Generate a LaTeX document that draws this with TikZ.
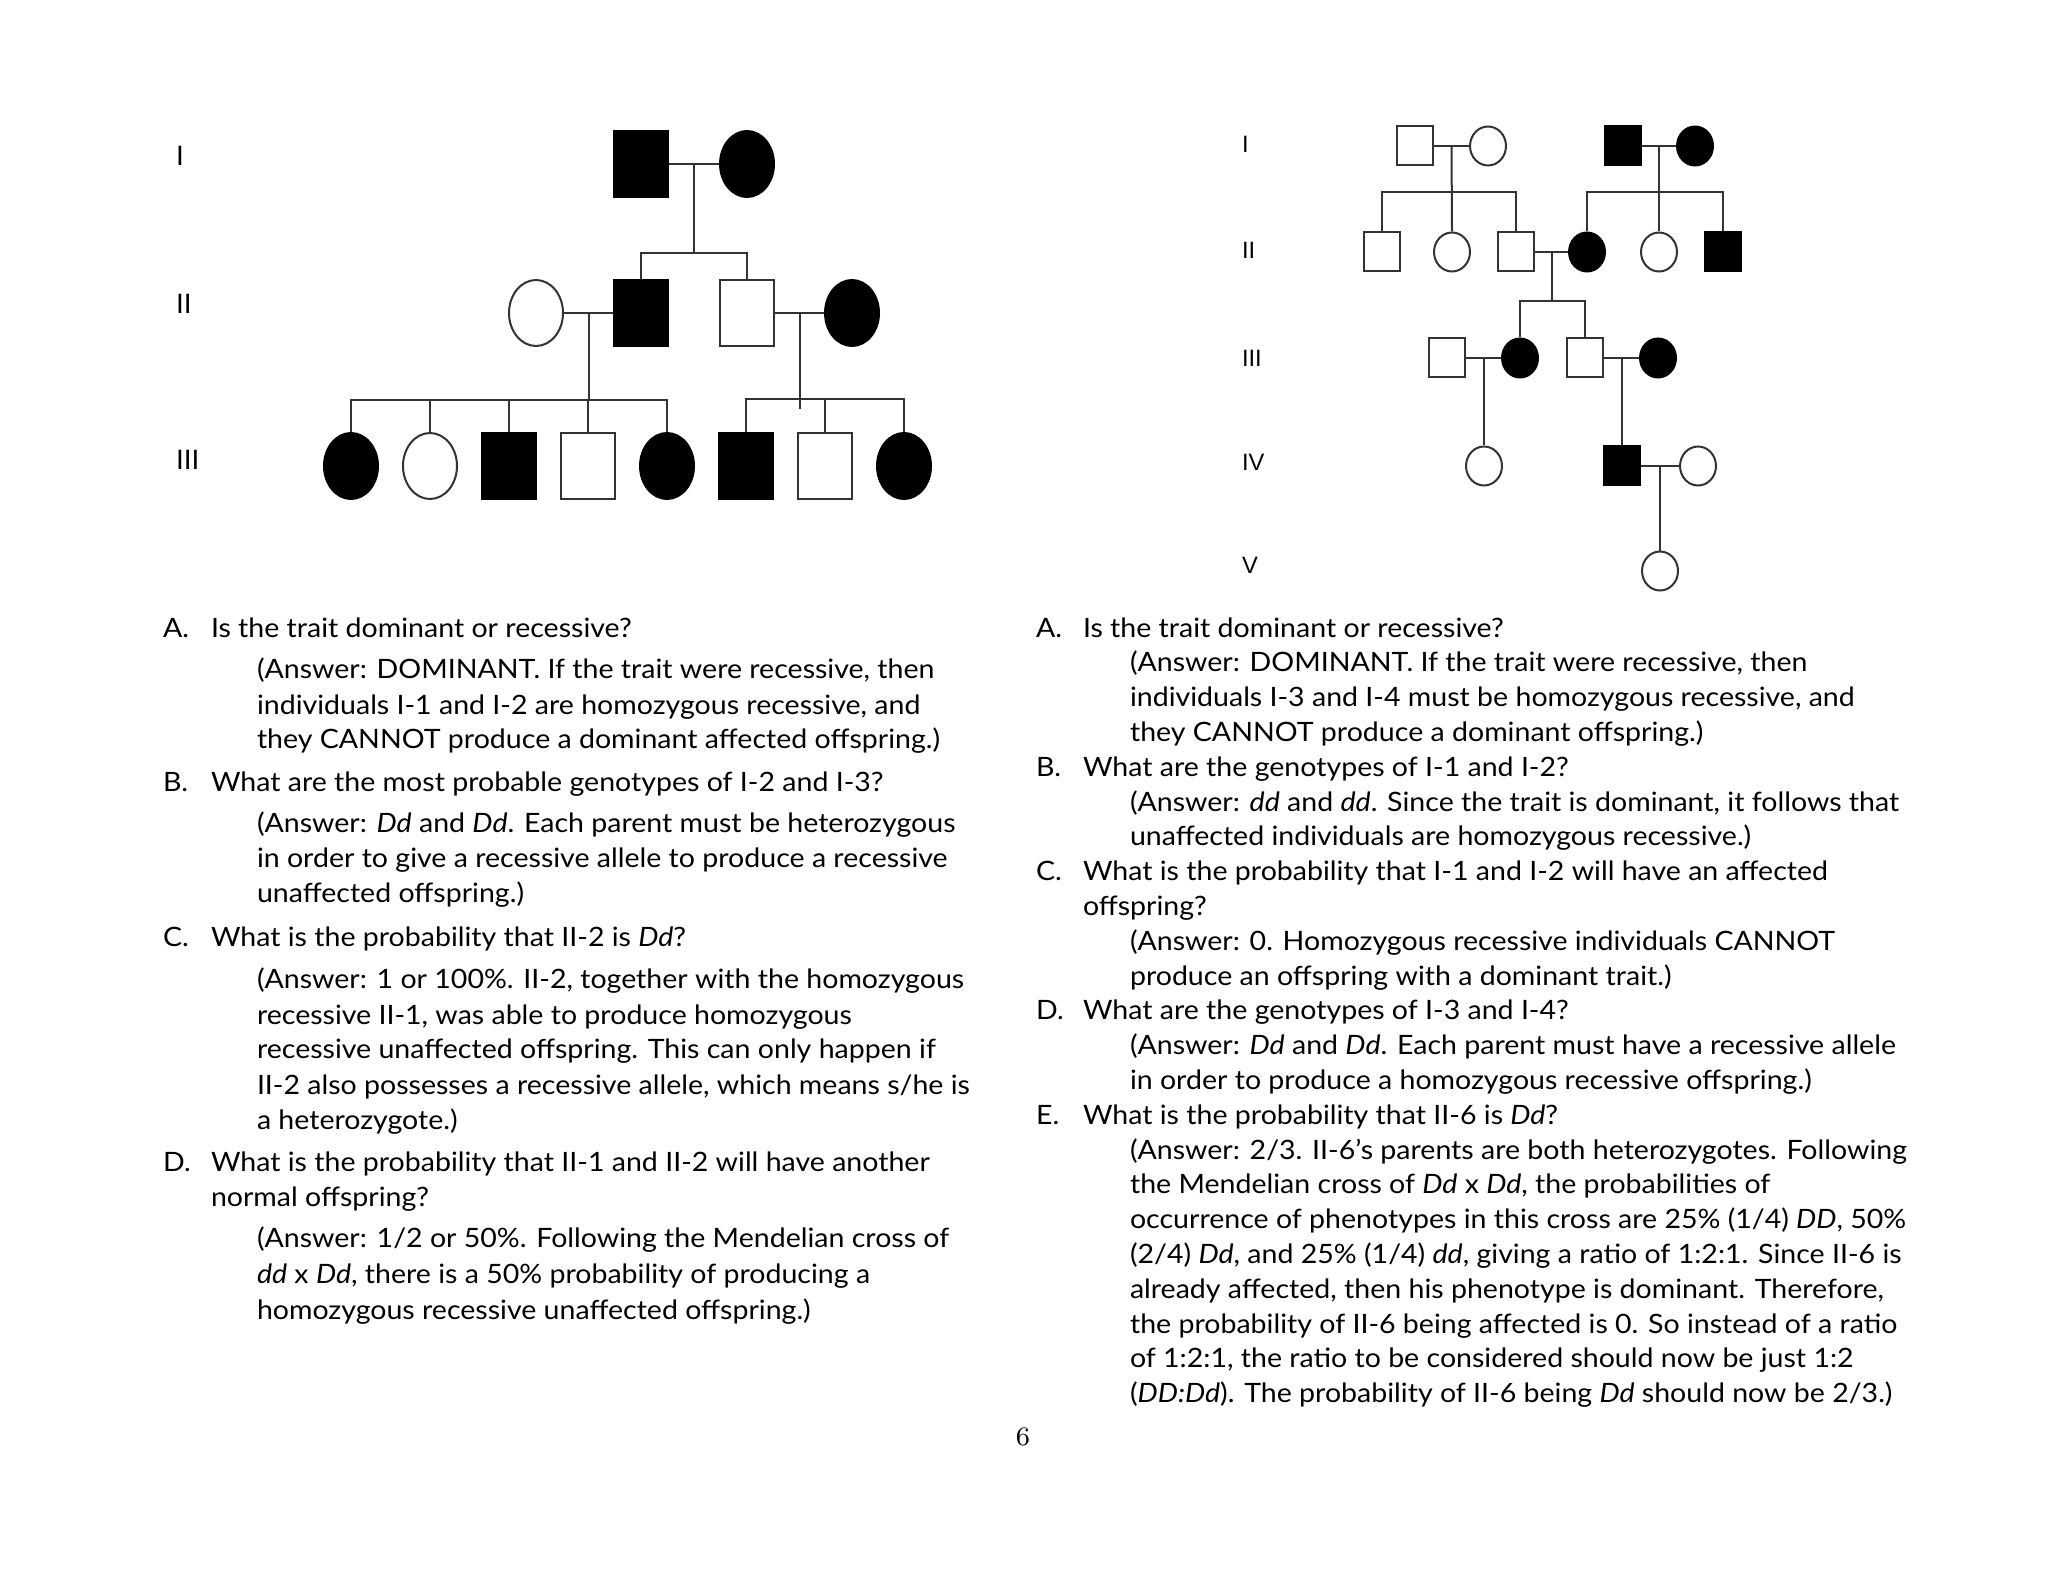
\documentclass[tikz,border=0pt]{standalone}
\usepackage{fontspec}
\usepackage{xcolor}
\usetikzlibrary{shapes.geometric}
\newfontfamily\qfont[FakeStretch=1.07]{Lato}
\newfontfamily\gfont{Liberation Sans}
\definecolor{pedline}{HTML}{333333}
\definecolor{pedfill}{HTML}{000000}

\tikzset{
  male/.style={rectangle, draw=pedline, line width=0.6pt, fill=white, inner sep=0pt},
  female/.style={ellipse, draw=pedline, line width=0.6pt, fill=white, inner sep=0pt},
  aff/.style={fill=pedfill, draw=pedfill},
  big/.style={minimum width=16.2pt, minimum height=19.8pt},
  small/.style={minimum width=10.8pt, minimum height=11.7pt},
  txt/.style={anchor=base west, inner sep=0pt, font=\qfont\fontsize{8}{9}\selectfont},
  gen/.style={anchor=base west, inner sep=0pt},
}

\begin{document}
\begin{tikzpicture}[x=0.3pt, y=-0.3pt, line width=0.6pt, draw=pedline]
  \useasboundingbox (0,0) rectangle (2048,1582);

  % left pedigree
  \foreach \y/\t/\n in {166/I/1,314/II/2,470/III/3}{
    \node[gen, font=\gfont\fontsize{8.4}{10}\selectfont] (Lg\n) at (175,\y) {\t};
  }
  \node[male,big,aff] (LI1) at (641,164) {};
  \node[female,big,aff] (LI2) at (747,164) {};
  \node[female,big] (LII1) at (536,313) {};
  \node[male,big,aff] (LII2) at (641,313) {};
  \node[male,big] (LII3) at (747,313) {};
  \node[female,big,aff] (LII4) at (852,313) {};
  \node[female,big,aff] (LIII1) at (351,466) {};
  \node[female,big] (LIII2) at (430,466) {};
  \node[male,big,aff] (LIII3) at (509,466) {};
  \node[male,big] (LIII4) at (588,466) {};
  \node[female,big,aff] (LIII5) at (667,466) {};
  \node[male,big,aff] (LIII6) at (746,466) {};
  \node[male,big] (LIII7) at (825,466) {};
  \node[female,big,aff] (LIII8) at (904,466) {};

  \draw (LI1) -- (LI2) coordinate[midway] (LmI);
  \draw (LmI) -- ++(0,89) coordinate (LsI);
  \draw (LII2.north) |- (LsI) -| (LII3.north);
  \draw (LII1) -- (LII2) coordinate[midway] (LmII);
  \draw (LmII) -- ++(0,87) coordinate (LsII);
  \draw (LIII1.north) |- (LsII) -| (LIII5.north);
  \foreach \k in {2,3,4}{
    \draw (LIII\k.north) -- ++(0,-33);
  }
  \draw (LII3) -- (LII4) coordinate[midway] (LmIIb);
  \draw (LmIIb) -- ++(0,96);
  \draw (LIII6.north) -- ++(0,-33) -| (LIII8.north);
  \draw (LIII7.north) -- ++(0,-33);

  % right pedigree
  \foreach \y/\t/\n in {153/I/1,259/II/2,367/III/3,471/IV/4,573/V/5}{
    \node[gen, font=\gfont\fontsize{7.1}{9}\selectfont] (Rg\n) at (1241,\y) {\t};
  }
  \node[male,small] (RI1) at (1415,146) {};
  \node[female,small] (RI2) at (1488,146) {};
  \node[male,small,aff] (RI3) at (1623,146) {};
  \node[female,small,aff] (RI4) at (1695,146) {};
  \node[male,small] (RII1) at (1382,252) {};
  \node[female,small] (RII2) at (1452,252) {};
  \node[male,small] (RII3) at (1516,252) {};
  \node[female,small,aff] (RII4) at (1587,252) {};
  \node[female,small] (RII5) at (1659,252) {};
  \node[male,small,aff] (RII6) at (1723,252) {};
  \node[male,small] (RIII1) at (1447,358) {};
  \node[female,small,aff] (RIII2) at (1520,358) {};
  \node[male,small] (RIII3) at (1585,358) {};
  \node[female,small,aff] (RIII4) at (1658,358) {};
  \node[female,small] (RIV1) at (1484,466) {};
  \node[male,small,aff] (RIV2) at (1622,466) {};
  \node[female,small] (RIV3) at (1698,466) {};
  \node[female,small] (RV1) at (1660,571) {};

  \draw (RI1) -- (RI2) coordinate[midway] (RmI);
  \draw (RmI) -- (RII2.north);
  \draw (RII1.north) -- ++(0,-39) -| (RII3.north);
  \draw (RI3) -- (RI4) coordinate[midway] (RmIb);
  \draw (RmIb) -- (RII5.north);
  \draw (RII4.north) -- ++(0,-39) -| (RII6.north);
  \draw (RII3) -- (RII4) coordinate[midway] (RmII);
  \draw (RmII) -- ++(0,49) coordinate (RsII);
  \draw (RIII2.north) |- (RsII) -| (RIII3.north);
  \draw (RIII1) -- (RIII2) coordinate[midway] (RmIII);
  \draw (RmIII) -- (RmIII |- RIV1.north);
  \draw (RIII3) -- (RIII4) coordinate[midway] (RmIIIb);
  \draw (RmIIIb) -- (RmIIIb |- RIV2.north);
  \draw (RIV2) -- (RIV3) coordinate[midway] (RmIV);
  \draw (RmIV) -- (RmIV |- RV1.north);

  % left questions
  \foreach \y/\t in {637/A.,791/B.,946/C.,1171/D.}{
    \node[txt] (Lq\y) at (162,\y) {\t};
  }
  \foreach \y/\t in {
    637/{Is the trait dominant or recessive?},
    791/{What are the most probable genotypes of I-2 and I-3?},
    946/{What is the probability that II-2 is \emph{Dd}?},
    1171/{What is the probability that II-1 and II-2 will have another},
    1206/{normal offspring?}}{
    \node[txt] (Ls\y) at (210,\y) {\t};
  }
  \foreach \y/\t in {
    678/{(Answer: DOMINANT. If the trait were recessive, then},
    714/{individuals I-1 and I-2 are homozygous recessive, and},
    748/{they CANNOT produce a dominant affected offspring.)},
    832/{(Answer: \emph{Dd} and \emph{Dd}. Each parent must be heterozygous},
    867/{in order to give a recessive allele to produce a recessive},
    902/{unaffected offspring.)},
    988/{(Answer: 1 or 100\%. II-2, together with the homozygous},
    1024/{recessive II-1, was able to produce homozygous},
    1058/{recessive unaffected offspring. This can only happen if},
    1094/{II-2 also possesses a recessive allele, which means s/he is},
    1129/{a heterozygote.)},
    1247/{(Answer: 1/2 or 50\%. Following the Mendelian cross of},
    1283/{\emph{dd} x \emph{Dd}, there is a 50\% probability of producing a},
    1319/{homozygous recessive unaffected offspring.)}}{
    \node[txt] (La\y) at (256,\y) {\t};
  }

  % right questions
  \foreach \i/\t in {0/A.,4/B.,7/C.,11/D.,14/E.}{
    \node[txt] (Rq\i) at (1035,{637+34.8*\i}) {\t};
  }
  \foreach \i/\t in {
    0/{Is the trait dominant or recessive?},
    4/{What are the genotypes of I-1 and I-2?},
    7/{What is the probability that I-1 and I-2 will have an affected},
    8/{offspring?},
    11/{What are the genotypes of I-3 and I-4?},
    14/{What is the probability that II-6 is \emph{Dd}?}}{
    \node[txt] (Rs\i) at (1082,{637+34.8*\i}) {\t};
  }
  \foreach \i/\t in {
    1/{(Answer: DOMINANT. If the trait were recessive, then},
    2/{individuals I-3 and I-4 must be homozygous recessive, and},
    3/{they CANNOT produce a dominant offspring.)},
    5/{(Answer: \emph{dd} and \emph{dd}. Since the trait is dominant, it follows that},
    6/{unaffected individuals are homozygous recessive.)},
    9/{(Answer: 0. Homozygous recessive individuals CANNOT},
    10/{produce an offspring with a dominant trait.)},
    12/{(Answer: \emph{Dd} and \emph{Dd}. Each parent must have a recessive allele},
    13/{in order to produce a homozygous recessive offspring.)},
    15/{(Answer: 2/3. II-6’s parents are both heterozygotes. Following},
    16/{the Mendelian cross of \emph{Dd} x \emph{Dd}, the probabilities of},
    17/{occurrence of phenotypes in this cross are 25\% (1/4) \emph{DD}, 50\%},
    18/{(2/4) \emph{Dd}, and 25\% (1/4) \emph{dd}, giving a ratio of 1:2:1. Since II-6 is},
    19/{already affected, then his phenotype is dominant. Therefore,},
    20/{the probability of II-6 being affected is 0. So instead of a ratio},
    21/{of 1:2:1, the ratio to be considered should now be just 1:2},
    22/{(\emph{DD:Dd}). The probability of II-6 being \emph{Dd} should now be 2/3.)}}{
    \node[txt] (Ra\i) at (1129,{637+34.8*\i}) {\t};
  }

  \node[inner sep=0pt, font=\fontsize{8}{10}\selectfont] (page) at (1023,1437) {6};
\end{tikzpicture}
\end{document}
